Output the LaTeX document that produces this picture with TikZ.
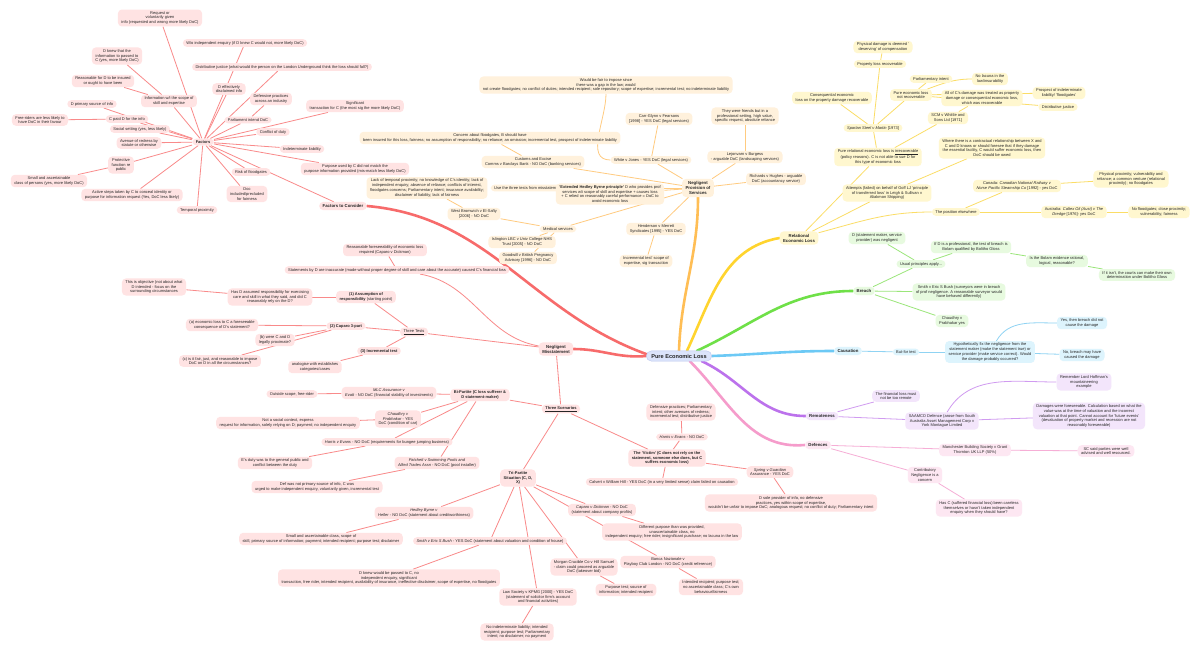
\documentclass[tikz,border=0pt]{standalone}
\usepackage{fontspec}
\setmainfont{Liberation Sans}
\usetikzlibrary{positioning}
\definecolor{pelrootfill}{HTML}{DCE4FB}
\definecolor{pelrootdraw}{HTML}{B9C7EE}
\definecolor{pelredfill}{HTML}{FFE3E3}
\definecolor{pelredln}{HTML}{F98A8A}
\definecolor{pelredmain}{HTML}{F76B6B}
\definecolor{pelorfill}{HTML}{FFF1DC}
\definecolor{pelorln}{HTML}{FFCB80}
\definecolor{pelormain}{HTML}{FFBE55}
\definecolor{pelyefill}{HTML}{FFF7CF}
\definecolor{pelyeln}{HTML}{FBDD66}
\definecolor{pelyemain}{HTML}{FFD42E}
\definecolor{pelgrfill}{HTML}{E7FADF}
\definecolor{pelgrln}{HTML}{9BE67A}
\definecolor{pelgrmain}{HTML}{6FE048}
\definecolor{pelblfill}{HTML}{DDF4FD}
\definecolor{pelblln}{HTML}{8FD3F3}
\definecolor{pelblmain}{HTML}{6CC9F5}
\definecolor{pelpufill}{HTML}{F3E5FB}
\definecolor{pelpuln}{HTML}{D09BF0}
\definecolor{pelpumain}{HTML}{BC72EC}
\definecolor{pelpkfill}{HTML}{FDE7F2}
\definecolor{pelpkln}{HTML}{F6AED6}
\definecolor{pelpkmain}{HTML}{F59CCB}
\pgfdeclarelayer{edges}
\pgfsetlayers{edges,main}

\begin{document}
\begin{tikzpicture}[
    x=1pt, y=-1pt,
    pelbox/.style={rounded corners=4pt, align=center, inner xsep=3.5pt, inner ysep=2pt, text=black!85, font=\fontsize{4}{4.7}\selectfont},
    pelmain/.style={pelbox, inner ysep=2.5pt, font=\bfseries\fontsize{4.3}{5}\selectfont},
    pelroot/.style={draw=pelrootdraw, fill=pelrootfill, rounded corners=5pt, inner xsep=5pt, inner ysep=3pt, text=black!85, font=\bfseries\fontsize{5.6}{6.5}\selectfont},
    pelred/.style={pelbox, fill=pelredfill},
    pelor/.style={pelbox, fill=pelorfill},
    pelye/.style={pelbox, fill=pelyefill},
    pelgr/.style={pelbox, fill=pelgrfill},
    pelbl/.style={pelbox, fill=pelblfill},
    pelpu/.style={pelbox, fill=pelpufill},
    pelpk/.style={pelbox, fill=pelpkfill},
    redln/.style={draw=pelredln, line width=0.8pt},
    orln/.style={draw=pelorln, line width=0.8pt},
    yeln/.style={draw=pelyeln, line width=0.8pt},
    grln/.style={draw=pelgrln, line width=0.8pt},
    blln/.style={draw=pelblln, line width=0.8pt},
    puln/.style={draw=pelpuln, line width=0.8pt},
    pkln/.style={draw=pelpkln, line width=0.8pt},
    trunk/.style={line width=2.6pt, line cap=round}
]
\useasboundingbox (0,0) rectangle (1200,651);

\node[pelroot] (root) at (679,356) {Pure Economic Loss};
\node[pelmain, fill=pelorfill] (nps) at (698,188) {Negligent\\Provision of\\Services};
\node[pelmain, fill=pelyefill] (rel) at (799,238) {Relational\\Economic Loss};
\node[pelmain, fill=pelgrfill] (brc) at (864,291) {Breach};
\node[pelmain, fill=pelblfill] (cau) at (848,351) {Causation};
\node[pelmain, fill=pelpufill] (rem) at (822,416) {Remoteness};
\node[pelmain, fill=pelpkfill] (dfc) at (818,445) {Defences};
\node[pelmain, fill=pelredfill] (nms) at (556,349) {Negligent\\Misstatement};
\node[pelmain, fill=pelredfill] (ftc) at (343,206) {Factors to Consider};

\node[pelred, font=\bfseries\fontsize{4}{4.7}\selectfont] (fac) at (203,142) {Factors};
\node[pelred] (f1) at (160,18) {Request or\\voluntarily given\\info (requested and wrong more likely DoC)};
\node[pelred] (f2) at (245,43) {W/o independent enquiry (if D knew C would not, more likely DoC)};
\node[pelred] (f3) at (282,67) {Distributive justice (what would the person on the London Underground think the loss should fall?)};
\node[pelred] (f4) at (169,101) {Information w/i the scope of\\skill and expertise};
\node[pelred] (f4a) at (117,56) {D knew that the\\information to passed to\\C (yes, more likely DoC)};
\node[pelred] (f4b) at (103,81) {Reasonable for D to be insured\\or ought to have been};
\node[pelred] (f5) at (229,89) {D effectively\\disclaimed info};
\node[pelred] (f6) at (248,120) {Parliament intend DoC};
\node[pelred] (f6a) at (271,99) {Defensive practices\\across an industry};
\node[pelred] (f7) at (92,104) {D primary source of info};
\node[pelred] (f8) at (127,119) {C paid D for the info};
\node[pelred] (f8a) at (40,120) {Free-riders are less likely to\\have DoC in their favour};
\node[pelred] (f9) at (140,129) {Social setting (yes, less likely)};
\node[pelred] (f10) at (273,132) {Conflict of duty};
\node[pelred] (f11) at (139,143) {Avenue of redress by\\statute or otherwise};
\node[pelred] (f12) at (302,149) {Indeterminate liability};
\node[pelred] (f13) at (121,165) {Protective\\function re\\public};
\node[pelred] (f13a) at (49,181) {Small and ascertainable\\class of persons (yes, more likely DoC)};
\node[pelred] (f14) at (251,172) {Risk of floodgates};
\node[pelred] (f15) at (247,194) {Doc\\included/precluded\\for fairness};
\node[pelred] (f16) at (132,195) {Active steps taken by C to conceal identity or\\purpose for information request (Yes, DoC less likely)};
\node[pelred] (f17) at (197,210) {Temporal proximity};
\node[pelred] (f18) at (355,106) {Significant\\transaction for C (the most sig the more likely DoC)};
\node[pelred] (f19) at (355,169) {Purpose used by C did not match the\\purpose information provided (mis-match less likely DoC)};

\node[pelred] (nm1) at (397,270) {Statements by D are inaccurate (made without proper degree of skill and care about the accurate) caused C's financial loss};
\node[pelred] (nm1a) at (385,250) {Reasonable foreseeability of economic loss\\required (Caparo v Dickman)};
\node[pelred] (tt) at (414,332) {\underline{Three Tests}};
\node[pelred] (t1) at (366,297) {\textbf{(1) Assumption of}\\\textbf{responsibility} (starting point)};
\node[pelred] (t1a) at (270,297) {Has D assumed responsibility for exercising\\care and skill in what they said, and did C\\reasonably rely on the D?};
\node[pelred] (t1b) at (154,287) {This is objective (not about what\\D intended - focus on the\\surrounding circumstances};
\node[pelred] (t2) at (346,326) {\textbf{(2) Caparo 3-part}};
\node[pelred] (t2a) at (222,325) {(a) economic loss to C a foreseeable\\consequence of D's statement?};
\node[pelred] (t2b) at (275,340) {(b) were C and D\\legally proximate?};
\node[pelred] (t2c) at (220,361) {(c) is it fair, just, and reasonable to impose\\DoC on D in all the circumstances?};
\node[pelred] (t3) at (379,351) {\textbf{(3) Incremental test}};
\node[pelred] (t3a) at (315,367) {analogise with establishes\\categories/cases};
\node[pelred] (ts) at (561,409) {\textbf{\underline{Three Scenarios}}};
\node[pelred, font=\bfseries\fontsize{4}{4.7}\selectfont] (bp) at (480,395) {Bi-Partite (C loss sufferer \&\\D statement-maker)};
\node[pelred] (b1) at (389,393) {\textit{MLC Assurance v}\\\textit{Evatt} - NO DoC (financial stability of investments)};
\node[pelred] (b1a) at (292,394) {Outside scope, free-rider};
\node[pelred] (b2) at (398,419) {\textit{Chaudhry v}\\\textit{Prabhakar} - YES\\DoC (condition of car)};
\node[pelred] (b2a) at (288,423) {Not a social context, express\\request for information, solely relying on D; payment; no independent enquiry};
\node[pelred] (b3) at (387,442) {\textit{Harris v Evans} - NO DoC (requirements for bungee jumping business)};
\node[pelred] (b3a) at (275,463) {E's duty was to the general public and\\conflict between the duty};
\node[pelred] (b4) at (437,463) {\textit{Patchett v Swimming Pools and}\\\textit{Allied Trades Assn} - NO DoC (pool installer)};
\node[pelred] (b4a) at (317,487) {Def was not primary source of info, C was\\urged to make independent enquiry, voluntarily given, incremental test};
\node[pelred, font=\bfseries\fontsize{4}{4.7}\selectfont] (tp) at (518,478) {Tri-Partite\\Situation (C, D,\\X)};
\node[pelred] (p1) at (424,513) {\textit{Hedley Byrne v}\\\textit{Heller} - NO DoC (statement about creditworthiness)};
\node[pelred] (p1a) at (321,539) {Small and ascertainable class, scope of\\skill, primary source of information; payment; intended recipient; purpose test; disclaimer};
\node[pelred] (p2) at (490,541) {\textit{Smith v Eric S Bush} - YES DoC (statement about valuation and condition of house)};
\node[pelred] (p2a) at (389,578) {D knew would be passed to C, no\\independent enquiry, significant\\transaction, free rider, intended recipient, availability of insurance, ineffective disclaimer, scope of expertise, no floodgates};
\node[pelred] (p3) at (538,597) {Law Society v KPMG [2000] - YES DoC\\(statement of solicitor firm's account\\and financial activities)};
\node[pelred] (p3a) at (517,632) {No indeterminate liability; intended\\recipient; purpose test; Parliamentary\\intent; no disclaimer; no payment};
\node[pelred] (p4) at (584,567) {Morgan Crucible Co v Hill Samuel\\- claim could proceed as arguable\\DoC (takeover bid)};
\node[pelred] (p4a) at (626,590) {Purpose test; source of\\information; intended recipient};
\node[pelred] (p5) at (602,510) {\textit{Caparo v Dickman} - NO DoC\\(statement about company profits)};
\node[pelred] (p5a) at (672,532) {Different purpose than was provided,\\unascertainable class, no\\independent enquiry; free rider; insignificant purchase; no lacuna in the law};
\node[pelred] (p6) at (668,562) {Banca Nazionale v\\Playboy Club London - NO DoC (credit reference)};
\node[pelred] (p6a) at (711,587) {Intended recipient; purpose test;\\no ascertainable class; C's own\\behaviour/fairness};
\node[pelred, font=\bfseries\fontsize{4}{4.7}\selectfont] (vt) at (667,458) {The 'Victim' (C does not rely on the\\statement, someone else does, but C\\suffers economic loss)};
\node[pelred] (v1) at (682,437) {\textit{Harris v Evans} - NO DoC};
\node[pelred] (v1a) at (681,412) {Defensive practices; Parliamentary\\intent; other avenues of redress;\\incremental test; distributive justice};
\node[pelred] (v2) at (662,482) {Calvert v William Hill - YES DoC (in a very limited sense) claim failed on causation};
\node[pelred] (v3) at (770,472) {\textit{Spring v Guardian}\\Assurance - YES DoC};
\node[pelred] (v3a) at (791,503) {D sole provider of info, no defensive\\practices, yes within scope of expertise,\\wouldn't be unfair to impose DoC; analogous request; no conflict of duty; Parliamentary intent};

\node[pelor] (s1) at (651,160) {White v Jones - YES DoC (legal services)};
\node[pelor] (s1a) at (659,119) {Carr-Glynn v Fearsons\\{}[1998] - YES DoC (legal services)};
\node[pelor] (s1b) at (606,85) {Would be fair to impose since\\there was a gap in the law; would\\not create floodgates; no conflict of duties; intended recipient; sole repository; scope of expertise; incremental test; no indeterminate liability};
\node[pelor] (s2) at (745,157) {Lejonvarn v Burgess\\- arguable DoC (landscaping services)};
\node[pelor] (s2a) at (745,116) {They were friends but in a\\professional setting, high value,\\specific request, absolute reliance};
\node[pelor] (s3) at (776,179) {Richards v Hughes - arguable\\DoC (accountancy service)};
\node[pelor] (s4) at (533,162) {Customs and Excise\\Comms v Barclays Bank - NO DoC (banking services)};
\node[pelor] (s4a) at (490,138) {Concern about floodgates, B should have\\been insured for this loss, fairness; no assumption of responsibility; no reliance; an omission; incremental test, prospect of indeterminate liability};
\node[pelor] (s5) at (528,188) {Use the three tests from misstatement};
\node[pelor] (s6) at (610,194) {\textbf{'Extended Hedley Byrne principle'} D who provides prof\\services w/i scope of skill and expertise + causes loss\\+ C relied on reasonably careful performance = DoC to\\avoid economic loss};
\node[pelor] (s7) at (558,229) {Medical services};
\node[pelor] (s7a) at (474,214) {West Bromwich v El-Safty\\{}[2006] - NO DoC};
\node[pelor] (s7b) at (427,188) {Lack of temporal proximity; no knowledge of C's identity; lack of\\independent enquiry; absence of reliance; conflicts of interest,\\floodgates concerns; Parliamentary intent; insurance availability;\\disclaimer of liability; lack of fairness};
\node[pelor] (s7c) at (522,242) {Islington LBC v Univ College NHS\\Trust [2005] - NO DoC};
\node[pelor] (s7d) at (528,258) {Goodwill v British Pregnancy\\Advisory [1996] - NO DoC};
\node[pelor] (s8) at (656,229) {Henderson v Merrett\\Syndicates [1995] - YES DoC};
\node[pelor] (s8a) at (646,261) {Incremental test' scope of\\expertise, sig transaction};

\node[pelye] (r1) at (878,157) {Pure relational economic loss is \underline{irrecoverable}\\(policy reasons). C is not able to sue D for\\this type of economic loss};
\node[pelye] (r1a) at (873,128) {\textit{Spartan Steel v Martin} [1973]};
\node[pelye] (r1b) at (832,98) {Consequential economic\\loss on the property damage recoverable};
\node[pelye] (r1c) at (880,64) {Property loss recoverable};
\node[pelye] (r1d) at (883,47) {Physical damage is deemed '\\deserving' of compensation};
\node[pelye] (r1e) at (911,95) {Pure economic loss\\not recoverable};
\node[pelye] (r1f) at (931,79) {Parliamentary intent};
\node[pelye] (r1g) at (990,79) {No lacuna in the\\law/insurability};
\node[pelye] (r1h) at (1059,93) {Prospect of indeterminate\\liability/ 'floodgates'};
\node[pelye] (r1i) at (1058,107) {Distributive justice};
\node[pelye] (r1j) at (948,118) {SCM v Whittle and\\Sons Ltd [1971]};
\node[pelye] (r1k) at (982,98) {All of C's damage was treated as property\\damage or consequential economic loss,\\which was recoverable};
\node[pelye] (r2) at (887,193) {Attempts (failed) on behalf of Goff LJ 'principle\\of transferred loss' in Leigh \& Sullivan v\\Aliakmon Shipping)};
\node[pelye] (r2a) at (992,148) {Where there is a contractual relationship between X and\\C and D knows or should foresee that if they damage\\the essential facility, C would suffer economic loss, then\\DoC should be owed};
\node[pelye] (r3) at (956,212) {The position elsewhere};
\node[pelye] (r3a) at (1017,186) {Canada: \textit{Canadian National Railway v}\\\textit{Norse Pacific Steamship Co} [1992] - yes DoC};
\node[pelye] (r3b) at (1131,179) {Physical proximity; vulnerability and\\reliance; a common venture (relational\\proximity); no floodgates};
\node[pelye] (r3c) at (1074,212) {Australia: \textit{Caltex Oil (Aust) v The}\\\textit{Dredge} [1976]- yes DoC};
\node[pelye] (r3d) at (1159,212) {No floodgates; close proximity;\\vulnerability; fairness};

\node[pelgr] (g1) at (921,264) {Usual principles apply...};
\node[pelgr] (g1a) at (877,238) {D (statement maker, service\\provider) was negligent};
\node[pelgr] (g1b) at (971,247) {If D is a professional, the test of breach is\\Bolam qualified by Bolitho Gloss};
\node[pelgr] (g1c) at (1057,261) {Is the Bolam evidence rational,\\logical, reasonable?};
\node[pelgr] (g1d) at (1137,275) {If it isn't, the courts can make their own\\determination under Bolitho Gloss};
\node[pelgr] (g2) at (959,292) {Smith v Eric S Bush (surveyors were in breach\\of prof negligence. A reasonable surveyor would\\have behaved differently)};
\node[pelgr] (g3) at (952,321) {Chaudhry v\\Prabhakar yes};

\node[pelbl] (c1) at (906,352) {But-for test};
\node[pelbl] (c2) at (990,352) {Hypothetically fix the negligence from the\\statement maker (make the statement true) or\\service provider (make service correct). Would\\the damage probably occurred?};
\node[pelbl] (c3) at (1082,323) {Yes, then breach did not\\cause the damage};
\node[pelbl] (c4) at (1082,355) {No, breach may have\\caused the damage};

\node[pelpu] (m1) at (896,396) {The financial loss must\\not be too remote};
\node[pelpu] (m2) at (942,421) {SAAMCO Defence (arose from South\\Australia Asset Management Corp v\\York Montague Limited};
\node[pelpu] (m2a) at (1084,382) {Remember Lord Hoffman's\\mountaineering\\example};
\node[pelpu] (m2b) at (1089,416) {Damages were foreseeable. Calculation based on what the\\value was at the time of valuation and the incorrect\\valuation at that point. Cannot account for 'future events'\\(devaluation of property market and recession are not\\reasonably foreseeable)};

\node[pelpk] (d1) at (975,450) {Manchester Building Society v Grant\\Thornton UK LLP (50\%)};
\node[pelpk] (d1a) at (1106,451) {SC said parties were well\\advised and well resourced.};
\node[pelpk] (d2) at (925,475) {Contributory\\Negligence is a\\concern};
\node[pelpk] (d2a) at (979,508) {Has C (suffered financial loss) been careless\\themselves or hasn't taken independent\\enquiry when they should have?};

\begin{pgfonlayer}{edges}
\fill[white] (0,0) rectangle (1200,651);
\draw[trunk, draw=pelormain] (root.north) to[out=88,in=-90] (nps.south);
\draw[trunk, draw=pelyemain] ([xshift=8pt]root.north) to[out=65,in=190] (rel.west);
\draw[trunk, draw=pelgrmain] ([xshift=18pt]root.north) to[out=25,in=180] (brc.west);
\draw[trunk, draw=pelblmain] (root.east) to[out=2,in=180] (cau.west);
\draw[trunk, draw=pelpumain] ([xshift=-10pt]root.south east) to[out=-25,in=180] (rem.west);
\draw[trunk, draw=pelpkmain] ([xshift=-22pt]root.south east) to[out=-45,in=185] (dfc.west);
\draw[trunk, draw=pelredmain] (root.west) to[out=185,in=0] (nms.east);
\draw[trunk, draw=pelredmain] (ftc.east) to[out=-5,in=160] ([yshift=2pt]root.west);

\foreach \f in {f1,f2,f3,f4,f5,f6,f7,f8,f9,f10,f11,f12,f13,f14,f15,f16,f17,f18,f19}
  \draw[redln] (fac) -- (\f);
\draw[redln] (ftc) -- (fac);
\draw[redln] (f4) -- (f4a);
\draw[redln] (f4) -- (f4b);
\draw[redln] (f6) -- (f6a);
\draw[redln] (f8) -- (f8a);
\draw[redln] (f13) -- (f13a);

\draw[redln] (nms) to[out=170,in=-10] (nm1);
\draw[redln] (nm1) -- (nm1a);
\draw[redln] (nms) -- (tt);
\draw[redln] (nms) -- (ts);
\draw[redln] (tt) -- (t1);
\draw[redln] (tt) -- (t2);
\draw[redln] (tt) -- (t3);
\draw[redln] (t1) -- (t1a);
\draw[redln] (t1a) -- (t1b);
\draw[redln] (t2) -- (t2a);
\draw[redln] (t2) -- (t2b);
\draw[redln] (t2) -- (t2c);
\draw[redln] (t3) -- (t3a);
\draw[redln] (ts) -- (bp);
\draw[redln] (ts) -- (tp);
\draw[redln] (ts) -- (vt);
\foreach \b in {b1,b2,b3,b4}
  \draw[redln] (bp) -- (\b);
\draw[redln] (b1) -- (b1a);
\draw[redln] (b2) -- (b2a);
\draw[redln] (b3) -- (b3a);
\draw[redln] (b4) -- (b4a);
\foreach \p in {p1,p2,p3,p4,p5,p6}
  \draw[redln] (tp) -- (\p);
\draw[redln] (p1) -- (p1a);
\draw[redln] (p2) -- (p2a);
\draw[redln] (p3) -- (p3a);
\draw[redln] (p4) -- (p4a);
\draw[redln] (p5) -- (p5a);
\draw[redln] (p6) -- (p6a);
\draw[redln] (vt) -- (v1);
\draw[redln] (vt) -- (v2);
\draw[redln] (vt) -- (v3);
\draw[redln] (v1) -- (v1a);
\draw[redln] (v3) -- (v3a);

\foreach \s in {s1,s2,s3,s4,s5,s6,s7,s8}
  \draw[orln] (nps) -- (\s);
\draw[orln] (s1) -- (s1a);
\draw[orln] (s1) to[out=180,in=-90] (s1b);
\draw[orln] (s2) -- (s2a);
\draw[orln] (s4) -- (s4a);
\draw[orln] (s7) -- (s7a);
\draw[orln] (s7) -- (s7c);
\draw[orln] (s7) -- (s7d);
\draw[orln] (s7a) -- (s7b);
\draw[orln] (s8) -- (s8a);

\draw[yeln] (rel) -- (r1);
\draw[yeln] (rel) -- (r2);
\draw[yeln] (rel) to[out=15,in=180] (r3);
\draw[yeln] (r1) -- (r1a);
\draw[yeln] (r1) -- (r1j);
\draw[yeln] (r1a) -- (r1b);
\draw[yeln] (r1a) -- (r1c);
\draw[yeln] (r1a) -- (r1e);
\draw[yeln] (r1c) -- (r1d);
\draw[yeln] (r1e) -- (r1f);
\draw[yeln] (r1e) to[out=20,in=180] (r1g);
\draw[yeln] (r1e) -- (r1h);
\draw[yeln] (r1e) -- (r1i);
\draw[yeln] (r1j) -- (r1k);
\draw[yeln] (r2) -- (r2a);
\draw[yeln] (r3) -- (r3a);
\draw[yeln] (r3) -- (r3c);
\draw[yeln] (r3a) -- (r3b);
\draw[yeln] (r3c) -- (r3d);

\draw[grln] (brc) -- (g1);
\draw[grln] (brc) -- (g2);
\draw[grln] (brc) -- (g3);
\draw[grln] (g1) -- (g1a);
\draw[grln] (g1) -- (g1b);
\draw[grln] (g1b) -- (g1c);
\draw[grln] (g1c) -- (g1d);

\draw[blln] (cau) -- (c1);
\draw[blln] (c1) -- (c2);
\draw[blln] (c2) to[out=60,in=180] (c3);
\draw[blln] (c2) -- (c4);

\draw[puln] (rem) -- (m1);
\draw[puln] (rem) -- (m2);
\draw[puln] (m2) to[out=60,in=180] (m2a);
\draw[puln] (m2) -- (m2b);

\draw[pkln] (dfc) -- (d1);
\draw[pkln] (dfc) -- (d2);
\draw[pkln] (d1) -- (d1a);
\draw[pkln] (d2) -- (d2a);
\end{pgfonlayer}
\end{tikzpicture}
\end{document}
